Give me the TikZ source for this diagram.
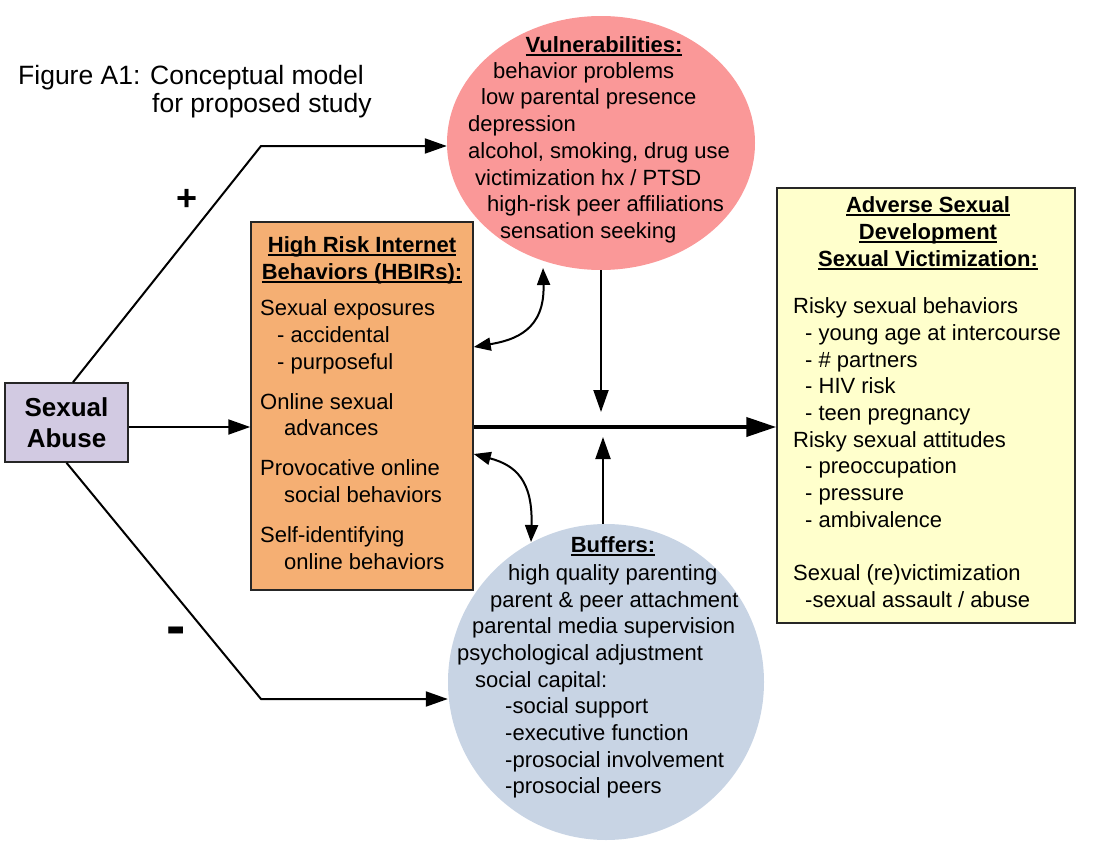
\documentclass[tikz,border=0pt]{standalone}
\usepackage{fontspec}
\setmainfont{Liberation Sans}
\usetikzlibrary{arrows.meta,shapes.geometric,calc}
\definecolor{vulc}{RGB}{250,152,152}
\definecolor{bufc}{RGB}{200,212,228}
\definecolor{hbirc}{RGB}{245,175,115}
\definecolor{advc}{RGB}{255,255,204}
\definecolor{sac}{RGB}{210,202,226}
\newcommand{\fsz}{\fontsize{22}{26.7}\selectfont}
\newcommand{\myul}[1]{\setbox0=\hbox{#1}\leavevmode\rlap{\rule[-3.8pt]{\wd0}{1.8pt}}\box0}
\begin{document}
\begin{tikzpicture}[x=1pt,y=-1pt,
  tx/.style={anchor=base west,inner sep=0pt,font=\fsz},
  ttl/.style={anchor=base,inner sep=0pt,font=\fsz\bfseries},
  boxed/.style={draw=black!85,line width=1.5pt,inner sep=0pt},
  conn/.style={line width=2pt,-{Triangle[length=22pt,width=15pt]}},
  mainarrow/.style={line width=4pt,-{Triangle[length=30pt,width=19pt]}},
  curv/.style={line width=2pt,{Triangle[length=17pt,width=13pt]}-{Triangle[length=17pt,width=13pt]}}]
\useasboundingbox (0,0) rectangle (1096,857);

% shapes
\node[ellipse,fill=vulc,minimum width=308pt,minimum height=254pt,inner sep=0pt] (vul) at (601,143) {};
\node[ellipse,fill=bufc,minimum width=316pt,minimum height=316pt,inner sep=0pt] (buf) at (606,682) {};
\node[boxed,fill=hbirc,minimum width=222pt,minimum height=368pt] (hbir) at (362,406) {};
\node[boxed,fill=advc,minimum width=298pt,minimum height=435pt] (adv) at (926,405.5) {};
\node[boxed,fill=sac,minimum width=123pt,minimum height=79pt,align=center,
      font=\fontsize{26}{31}\selectfont\bfseries] (sa) at (66.5,422.5) {Sexual\\Abuse};

% title
\node[anchor=base west,inner sep=0pt,font=\fontsize{26.5}{30}\selectfont] (t1) at (18,84) {Figure A1: Conceptual model};
\node[anchor=base west,inner sep=0pt,font=\fontsize{26.5}{30}\selectfont] (t2) at (152,112) {for proposed study};

% signs
\node[inner sep=0pt,font=\fontsize{36}{40}\selectfont\bfseries] (plus) at (187,200) {+};
\node[inner sep=0pt,font=\fontsize{58}{62}\selectfont\bfseries] (minus) at (176.5,636) {-};

% vulnerabilities text
\node[ttl] (v0) at (604,52) {\myul{Vulnerabilities:}};
\node[tx] (v1t) at (493,78) {behavior problems};
\node[tx] (v2t) at (481,104) {low parental presence};
\node[tx] (v3t) at (468,131) {depression};
\node[tx] (v4t) at (468,158) {alcohol, smoking, drug use};
\node[tx] (v5t) at (475,185) {victimization hx / PTSD};
\node[tx] (v6t) at (487,211) {high-risk peer affiliations};
\node[tx] (v7t) at (500,238) {sensation seeking};

% HBIR text
\node[ttl] (h0) at (362,252) {\myul{High Risk Internet}};
\node[ttl] (h1) at (362,279) {\myul{Behaviors (HBIRs):}};
\node[tx] (h2) at (260,315) {Sexual exposures};
\node[tx] (h3) at (277,342) {- accidental};
\node[tx] (h4) at (277,369) {- purposeful};
\node[tx] (h5) at (260,409) {Online sexual};
\node[tx] (h6) at (284,435) {advances};
\node[tx] (h7) at (260,475) {Provocative online};
\node[tx] (h8) at (284,502) {social behaviors};
\node[tx] (h9) at (260,542) {Self-identifying};
\node[tx] (h10) at (284,569) {online behaviors};

% Adverse text
\node[ttl] (a0) at (928,212) {\myul{Adverse Sexual}};
\node[ttl] (a1) at (928,239) {\myul{Development}};
\node[ttl] (a2) at (928,266) {\myul{Sexual Victimization:}};
\node[tx] (a3) at (793,313) {Risky sexual behaviors};
\node[tx] (a4) at (805,340) {- young age at intercourse};
\node[tx] (a5) at (805,367) {- \# partners};
\node[tx] (a6) at (805,393) {- HIV risk};
\node[tx] (a7) at (805,420) {- teen pregnancy};
\node[tx] (a8) at (793,447) {Risky sexual attitudes};
\node[tx] (a9) at (805,473) {- preoccupation};
\node[tx] (a10) at (805,500) {- pressure};
\node[tx] (a11) at (805,527) {- ambivalence};
\node[tx] (a12) at (793,580) {Sexual (re)victimization};
\node[tx] (a13) at (805,607) {-sexual assault / abuse};

% Buffers text
\node[ttl] (b0) at (613,552) {\myul{Buffers:}};
\node[tx] (b1t) at (508,580) {high quality parenting};
\node[tx] (b2t) at (490,607) {parent \& peer attachment};
\node[tx] (b3t) at (472,633) {parental media supervision};
\node[tx] (b4t) at (457,660) {psychological adjustment};
\node[tx] (b5t) at (475,687) {social capital:};
\node[tx] (b6t) at (505,713) {-social support};
\node[tx] (b7t) at (505,740) {-executive function};
\node[tx] (b8t) at (505,767) {-prosocial involvement};
\node[tx] (b9t) at (505,793) {-prosocial peers};

% helper coordinates
\coordinate (mid) at (0,427);
\coordinate (k1) at (261,146);
\coordinate (k2) at (261,699);
\coordinate (vt) at (601,412);
\coordinate (vb) at (603,437);
\coordinate (vc) at (543,268);
\coordinate (bc) at (531,542);

% connectors
\draw[conn] (sa.east |- mid) -- (hbir.west |- mid);
\draw[conn] ([xshift=6.5pt]sa.north) -- (k1) -- (vul.west |- k1);
\draw[conn] (sa.south) -- (k2) -- (buf.west |- k2);
\draw[mainarrow] (hbir.east |- mid) -- (adv.west |- mid);
\draw[conn] (vul.south) -- (vt);
\draw[conn] (vb |- buf.north) -- (vb);
\draw[curv] ([yshift=59pt]hbir.east) .. controls (515,340) and (545,330) .. (vc);
\draw[curv] ([yshift=-48pt]hbir.east) .. controls (515,465) and (533,480) .. (bc);
\end{tikzpicture}
\end{document}
